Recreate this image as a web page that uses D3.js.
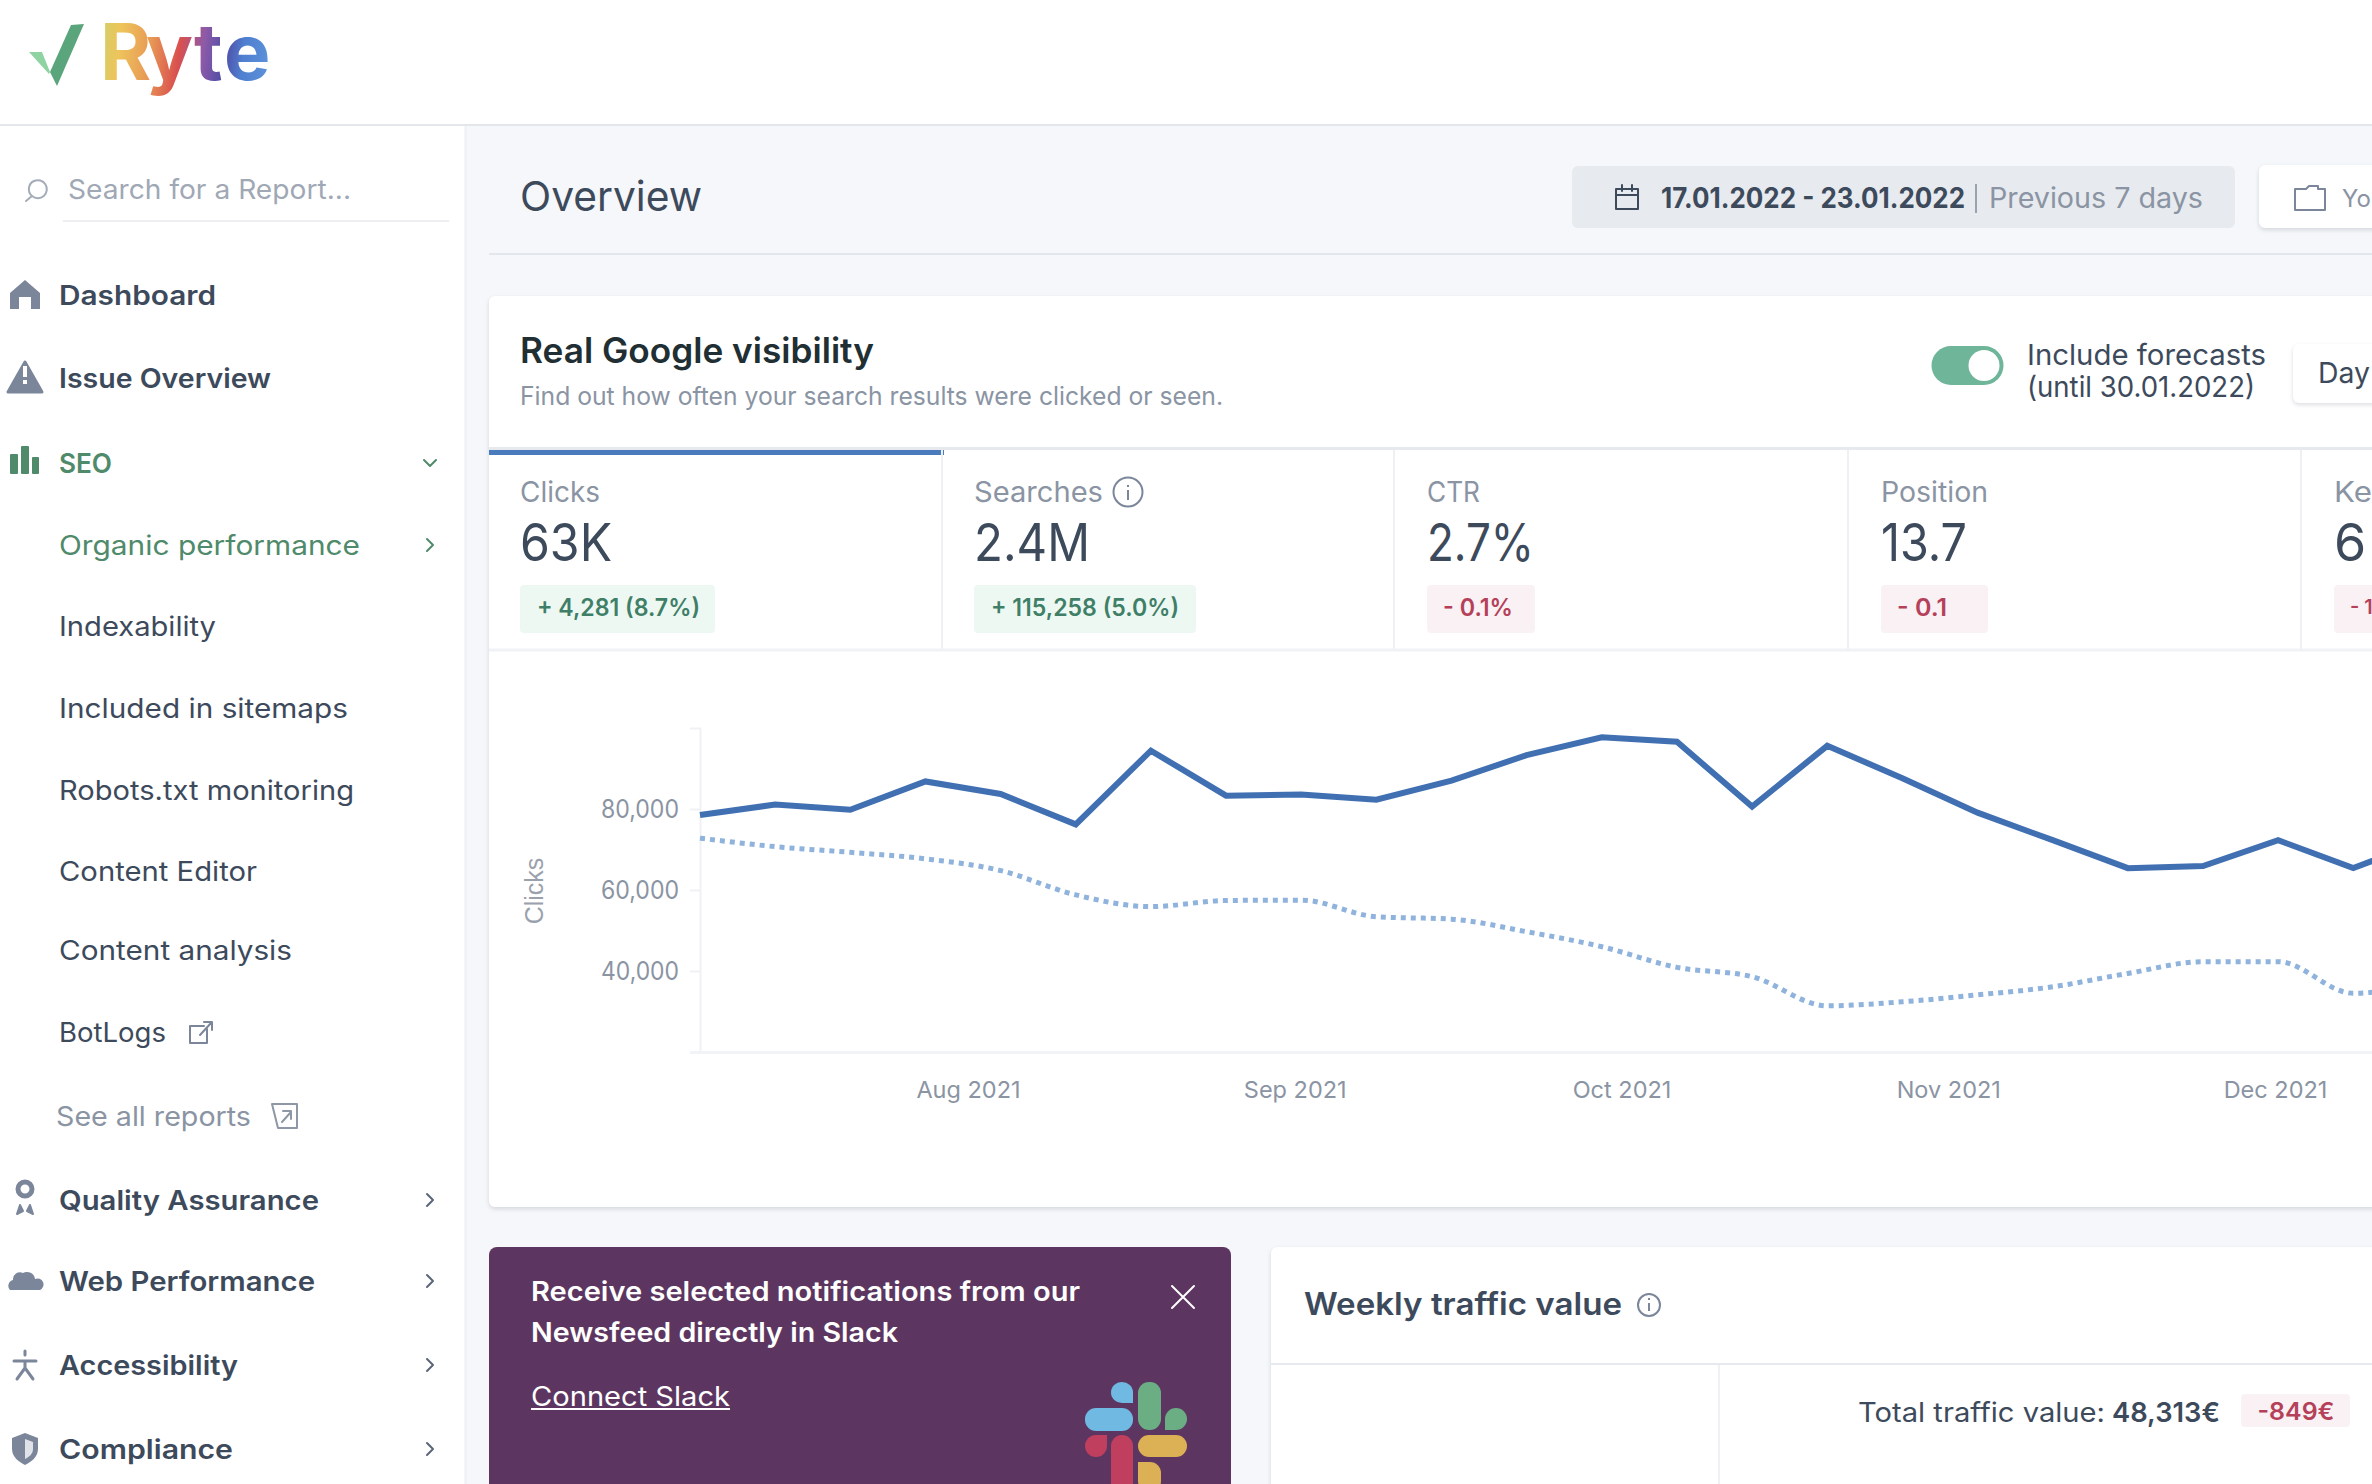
<!DOCTYPE html>
<html>
<head>
<meta charset="utf-8" />
<title>Ryte overview</title>
<script src="https://cdn.jsdelivr.net/npm/d3@7"></script>
<style>
  html, body { margin: 0; padding: 0; background: #f5f7fa; overflow: hidden; }
  svg { display: block; }
  text { font-family: Inter, "Noto Sans", sans-serif; }
  .card { filter: drop-shadow(0 2px 2px rgba(60, 70, 90, .18)); }
</style>
</head>
<body>
<script>
// chart data
var weeks = ["2021-07-05","2021-07-12","2021-07-19","2021-07-26","2021-08-02","2021-08-09","2021-08-16","2021-08-23",
             "2021-08-30","2021-09-06","2021-09-13","2021-09-20","2021-09-27","2021-10-04","2021-10-11","2021-10-18",
             "2021-10-25","2021-11-01","2021-11-08","2021-11-15","2021-11-22","2021-11-29","2021-12-06","2021-12-13"];
var clicks = [78500,81100,79800,86800,83700,76200,94400,83300,83600,82300,87000,93300,
              97700,96600,80600,95600,87600,79100,72300,65400,65900,72300,65400,72400];
var clicksPrevious = [72800,70700,69300,67700,64800,58800,55900,57400,57500,53400,52800,49700,
                      46000,40900,38600,31400,32400,34100,36100,39400,42300,42300,34500,37400];
var monthLabels = ["Aug 2021","Sep 2021","Oct 2021","Nov 2021","Dec 2021"];
var yTicks = [40000,60000,80000];

// page text
var navTitles = ["Dashboard","Issue Overview","SEO","Organic performance","Indexability","Included in sitemaps",
                 "Robots.txt monitoring","Content Editor","Content analysis","BotLogs","See all reports",
                 "Quality Assurance","Web Performance","Accessibility","Compliance"];
var navY      = [295,378,463,545,626,708,790,871,950,1032,1116,1200,1281,1365,1449];
var navWidth  = [157,212,53,301,157,289,295,198,233,107,195,260,256,179,174];
var navKind   = ["bold","bold","green","active","sub","sub","sub","sub","sub","sub","more","bold","bold","bold","bold"];
var tabLabels = ["Clicks","Searches","CTR","Position","Ke"];
var tabValues = ["63K","2.4M","2.7%","13.7","6"];
var tabDeltas = ["+ 4,281 (8.7%)","+ 115,258 (5.0%)","- 0.1%","- 0.1","- 1"];
var tabX      = [520,974,1427,1881,2334];

var dark = "#3d4a5c", grey = "#8a94a3", green = "#4f8a6b";

var svg = d3.select("body").append("svg").attr("width", 2372).attr("height", 1484);
var defs = svg.append("defs");

function label(x, y, str, o) {
  o = o || {};
  var t = svg.append("text")
    .attr("x", x).attr("y", y)
    .attr("dominant-baseline", "central")
    .attr("font-size", o.size || 26)
    .attr("font-weight", o.weight || 400)
    .attr("fill", o.color || dark)
    .text(str);
  if (o.width) t.attr("textLength", o.width).attr("lengthAdjust", "spacingAndGlyphs");
  return t;
}
function box(x, y, w, h, fill, r, cls) {
  return svg.append("rect").attr("x", x).attr("y", y).attr("width", w).attr("height", h)
    .attr("rx", r || 0).attr("fill", fill).attr("class", cls || null);
}
function icon(x, y, d, o) {
  o = o || {};
  return svg.append("path").attr("transform", "translate(" + x + "," + y + ")").attr("d", d)
    .attr("fill", o.fill || "none").attr("stroke", o.stroke || "none")
    .attr("stroke-width", o.sw || 2).attr("stroke-linecap", "round").attr("stroke-linejoin", "round");
}
function hline(x1, x2, y, color, w) {
  svg.append("line").attr("x1", x1).attr("x2", x2).attr("y1", y).attr("y2", y)
    .attr("stroke", color).attr("stroke-width", w || 2);
}
function vline(x, y1, y2, color, w) {
  svg.append("line").attr("x1", x).attr("x2", x).attr("y1", y1).attr("y2", y2)
    .attr("stroke", color).attr("stroke-width", w || 2);
}

// ---- header and sidebar
box(0, 0, 2372, 125, "#fff");
box(0, 125, 465, 1359, "#fff");
vline(465.5, 125, 1484, "#eef0f4", 2);
hline(0, 2372, 125, "#e3e6eb", 2);

var grad = defs.append("linearGradient").attr("id", "logoGrad").attr("gradientUnits", "userSpaceOnUse")
  .attr("x1", 100).attr("x2", 266).attr("y1", 40).attr("y2", 60);
[[0,"#d3cf66"],[.12,"#eec45c"],[.3,"#e89a55"],[.48,"#d9504f"],[.62,"#8e5aa8"],[.75,"#4f4da6"],[.86,"#4f7fd0"],[1,"#5b8fd8"]]
  .forEach(function(s) { grad.append("stop").attr("offset", s[0]).attr("stop-color", s[1]); });
svg.append("path").attr("d", "M29 52L42 52L50 72L49 74Z").attr("fill", "#8fd3a3");
svg.append("path").attr("d", "M71 25L84 24L57 86L50 72Z").attr("fill", "#5ba57c");
// one text element, each letter placed where the logo has it
svg.append("text").attr("x", "100 146 194 224").attr("y", 80).attr("font-size", 78).attr("font-weight", 700)
  .attr("fill", "url(#logoGrad)").text("Ryte");

icon(37, 189, "M-5 7A9 9 0 1 0 -3 -8A9 9 0 0 0 -5 7L-11 12", {stroke: "#a4acb8"});
label(68, 189, "Search for a Report...", {size: 27, color: "#a0a8b5", width: 283});
hline(63, 449, 221, "#eceef2", 2);

navTitles.forEach(function(t, i) {
  var k = navKind[i];
  var color = k == "green" || k == "active" ? green : k == "more" ? grey : dark;
  label(k == "more" ? 56 : 59, navY[i], t, {size: 27, weight: k == "bold" || k == "green" ? 600 : 400, color: color, width: navWidth[i]});
});

// sidebar icons
var ic = "#7b869b";
icon(25, 295, "M-15 -2L0 -15L15 -2V14H6V2H-6V14H-15Z", {fill: ic});
icon(25, 378, "M0 -16L17 14H-17Z", {fill: ic, stroke: ic, sw: 3});
box(23, 366, 4, 11, "#fff"); box(23, 380, 4, 4, "#fff");
box(10, 454, 8, 20, green, 1); box(21, 446, 8, 28, green, 1); box(32, 457, 7, 17, green, 1);
icon(25, 1192, "M0 -10A7 7 0 1 1 0 4A7 7 0 1 1 0 -10Z", {stroke: ic, sw: 5});
icon(25, 1200, "M-5 5L-8 14L-2 11ZM5 5L8 14L2 11Z", {fill: ic, stroke: ic, sw: 2});
icon(25, 1281, "M-15 9A6 6 0 0 1 -12 -1A7 7 0 0 1 -2 -8A8 8 0 0 1 10 -2A6 6 0 0 1 15 9Z", {fill: ic});
icon(25, 1365, "M0 -14V-10M-11 -4H11M0 -4V3M0 3L-8 14M0 3L8 14", {stroke: ic, sw: 3});
icon(25, 1449, "M0 -16L13 -11V0C13 8 6 13 0 16C-6 13 -13 8 -13 0V-11Z", {fill: ic});
icon(25, 1449, "M0 -10L8 -7V0C8 5 4 8 0 10Z", {fill: "#dfe2e8"});
icon(201, 1033, "M6 -4V10H-11V-7H3M-1 2L10 -10M3 -11H11V-3", {stroke: ic, sw: 2});
icon(285, 1116, "M-13 -12H12V12H-7Z M-3 6L6 -4M-2 -5H6V3", {stroke: "#8d97a6", sw: 2});

// chevrons
var chevRight = "M-3 -6L3 0L-3 6", chevDown = "M-6 -3L0 3L6 -3";
icon(430, 463, chevDown, {stroke: green, sw: 2});
[545, 1200, 1281, 1365, 1449].forEach(function(y, i) {
  icon(430, y, chevRight, {stroke: i == 0 ? green : "#5a6677", sw: 2});
});

// ---- top bar
label(520, 196, "Overview", {size: 41, width: 182});
hline(489, 2372, 254, "#e3e6eb", 2);
box(1572, 166, 663, 62, "#e7eaee", 6);
icon(1627, 198, "M-11 -9H11V11H-11ZM-11 -3H11M-5 -13V-7M5 -13V-7", {stroke: dark, sw: 2});
label(1661, 198, "17.01.2022 - 23.01.2022", {size: 28, weight: 700, width: 304});
vline(1976, 184, 213, "#9aa2af", 2);
label(1989, 198, "Previous 7 days", {size: 28, color: grey, width: 214});
box(2259, 165, 130, 63, "#fff", 6, "card");
icon(2310, 198, "M-15 -9H-4L-1 -12H8V-9H15V12H-15Z", {stroke: "#7b869b", sw: 2});
label(2342, 198, "Yo", {size: 24, color: grey});

// ---- main card
box(489, 296, 1900, 911, "#fff", 6, "card");
label(520, 350, "Real Google visibility", {size: 35, weight: 600, color: "#1f2f33", width: 354});
label(520, 395.5, "Find out how often your search results were clicked or seen.", {size: 25, color: grey, width: 703});

icon(0, 0, "M1951 346H1984A19.5 19.5 0 0 1 1984 385H1951A19.5 19.5 0 0 1 1951 346Z", {fill: "#6fb59a"});
svg.append("circle").attr("cx", 1984).attr("cy", 365.5).attr("r", 15.5).attr("fill", "#fff");
label(2027, 354, "Include forecasts", {size: 29, width: 239});
label(2027, 386, "(until 30.01.2022)", {size: 29, width: 228});
box(2293, 344, 100, 59, "#fff", 6, "card");
label(2318, 372, "Day", {size: 29, width: 52});

hline(489, 2372, 448.5, "#e6e9ee", 3);
box(489, 450, 455, 5, "#4a7bbd");
hline(489, 2372, 650, "#f0f2f5", 3);
[942, 1394, 1848, 2301].forEach(function(x) { vline(x, 450, 649, "#eef0f4", 2); });

var tabLabelW = [80, 129, 53, 107, 38];
var tabValueW = [92, 116, 107, 86, null];
var tabBadgeW = [195, 222, 108, 107, 60];
var tabDeltaW = [163, 188, 70, 50, null];
var tabDeltaS = [24, 24, 24, 24, 20];
tabLabels.forEach(function(t, i) {
  var up = i < 2;
  label(tabX[i], 492, t, {size: 28, color: grey, width: tabLabelW[i]});
  label(tabX[i], 542, tabValues[i], {size: 52, weight: 400, width: tabValueW[i]});
  box(tabX[i], 585, tabBadgeW[i], 48, up ? "#eef8f3" : "#f9f1f3", 4);
  label(tabX[i] + (up ? 17 : 16), 607, tabDeltas[i], {size: tabDeltaS[i], weight: 600, color: up ? "#3f7f67" : "#b5405a",
    width: tabDeltaW[i]});
});
// info icon next to "Searches"
svg.append("circle").attr("cx", 1128).attr("cy", 492).attr("r", 14.5).attr("fill", "none").attr("stroke", "#7b869b").attr("stroke-width", 2);
box(1127, 490, 2, 10, "#7b869b"); box(1127, 485, 2, 2, "#7b869b");

// ---- chart
var x = d3.scalePoint().domain(weeks).range([700, 700 + 75.15 * (weeks.length - 1)]);
var xMonth = d3.scalePoint().domain(monthLabels).range([968, 2275]);
var y = d3.scaleLinear().domain([20000, 100000]).range([1052, 728]);

var yAxis = svg.append("g").attr("transform", "translate(700,0)")
  .call(d3.axisLeft(y).tickValues(yTicks).tickFormat(d3.format(",")).tickSize(10).tickPadding(11));
yAxis.selectAll("path,line").attr("stroke", "#eff1f4").attr("stroke-width", 2);
yAxis.selectAll("text").attr("fill", grey).attr("font-size", 25).attr("textLength", 78).attr("lengthAdjust", "spacingAndGlyphs");

hline(690, 2372, 1052.5, "#f1f3f6", 3);

var xAxis = svg.append("g").attr("transform", "translate(0,1052)")
  .call(d3.axisBottom(xMonth).tickSize(0).tickPadding(29));
xAxis.select(".domain").remove();
xAxis.selectAll("text").attr("fill", grey).attr("font-size", 23.5);

svg.append("text").attr("transform", "translate(534,891) rotate(-90)")
  .attr("text-anchor", "middle").attr("dominant-baseline", "central")
  .attr("font-size", 25).attr("fill", "#9aa1ad").style("font-family", "Liberation Sans").text("Clicks");

var lineClicks = d3.line().x(function(d, i) { return x(weeks[i]); }).y(function(d) { return y(d); });
var linePrevious = d3.line().curve(d3.curveMonotoneX).x(function(d, i) { return x(weeks[i]); }).y(function(d) { return y(d); });

svg.append("path").datum(clicksPrevious).attr("d", linePrevious)
  .attr("fill", "none").attr("stroke", "#8fb3dc").attr("stroke-width", 5).attr("stroke-dasharray", "5 5");
svg.append("path").datum(clicks).attr("d", lineClicks)
  .attr("fill", "none").attr("stroke", "#4170b2").attr("stroke-width", 6).attr("stroke-linejoin", "miter");

// ---- slack notice
box(489, 1247, 742, 260, "#5c3660", 8);
label(531, 1291, "Receive selected notifications from our", {size: 27, weight: 600, color: "#fff", width: 549});
label(531, 1332, "Newsfeed directly in Slack", {size: 27, weight: 600, color: "#fff", width: 367});
label(531, 1396, "Connect Slack", {size: 27, color: "#fff", width: 199});
hline(531, 730, 1409, "#fff", 2);
icon(1183, 1297, "M-11 -11L11 11M11 -11L-11 11", {stroke: "#fff", sw: 2});

var slackPieces = [
  [1111, 1382, 22, 21, "#6fb9e3"], [1085, 1408, 48, 23, "#6fb9e3"],
  [1138, 1382, 23, 48, "#6bae83"], [1165, 1408, 22, 22, "#6bae83"],
  [1085, 1435, 22, 22, "#c03f5f"], [1111, 1435, 22, 60, "#c03f5f"],
  [1138, 1435, 49, 22, "#dcb054"], [1138, 1462, 23, 30, "#dcb054"]
];
slackPieces.forEach(function(p) { box(p[0], p[1], p[2], p[3], p[4], 11); });
// flat corners of the small pieces
box(1122, 1392, 11, 11, "#6fb9e3");
box(1165, 1419, 11, 11, "#6bae83");
box(1096, 1435, 11, 11, "#c03f5f");
box(1138, 1462, 11, 11, "#dcb054");

// ---- weekly traffic value
box(1271, 1247, 1120, 260, "#fff", 6, "card");
label(1304, 1303, "Weekly traffic value", {size: 31, weight: 600, width: 318});
svg.append("circle").attr("cx", 1649).attr("cy", 1305).attr("r", 11).attr("fill", "none").attr("stroke", "#7b869b").attr("stroke-width", 2);
box(1648, 1303, 2, 8, "#7b869b"); box(1648, 1298, 2, 2, "#7b869b");
hline(1271, 2372, 1364, "#e6eaef", 2);
vline(1719, 1365, 1484, "#eef0f4", 2);
label(1858, 1412, "Total traffic value:", {size: 27, width: 247});
label(2112, 1412, "48,313€", {size: 27, weight: 600, width: 108});
box(2241, 1394, 109, 33, "#f9f1f3", 4);
label(2257.5, 1411, "-849€", {size: 24, weight: 600, color: "#b5405a", width: 77});
</script>
</body>
</html>
